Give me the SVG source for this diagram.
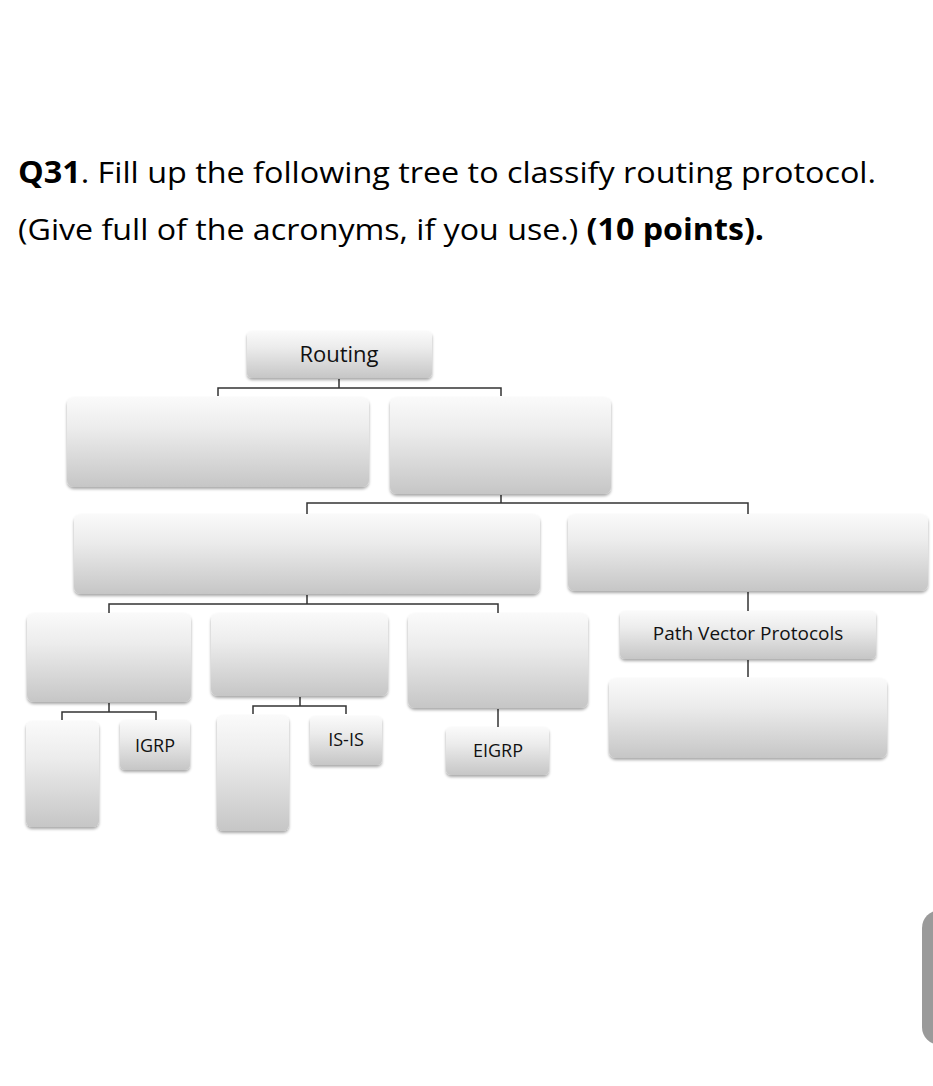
<svg xmlns="http://www.w3.org/2000/svg" width="933" height="1086" viewBox="0 0 933 1086">
<defs>
<linearGradient id="g" x1="0" y1="0" x2="0" y2="1">
<stop offset="0" stop-color="#fafafa"/>
<stop offset="0.35" stop-color="#ececec"/>
<stop offset="1" stop-color="#c6c6c6"/>
</linearGradient>
<filter id="sh" x="-10%" y="-10%" width="120%" height="130%">
<feGaussianBlur in="SourceAlpha" stdDeviation="1.5"/>
<feOffset dx="0" dy="2"/>
<feComponentTransfer><feFuncA type="linear" slope="0.35"/></feComponentTransfer>
<feMerge><feMergeNode/><feMergeNode in="SourceGraphic"/></feMerge>
</filter>
</defs>
<style>
.b{fill:url(#g);filter:url(#sh)}
.c{stroke:#333;stroke-width:1.5;fill:none}
.t{font-family:"Open Sans","Noto Sans",sans-serif;fill:#111;text-anchor:middle}
.h{font-family:"Open Sans","Noto Sans",sans-serif;fill:#000;font-size:30px}
</style>
<rect width="933" height="1086" fill="#fff"/>
<text class="h" x="18" y="183" textLength="858" lengthAdjust="spacingAndGlyphs"><tspan font-weight="bold">Q31</tspan>. Fill up the following tree to classify routing protocol.</text>
<text class="h" x="18" y="240" textLength="746" lengthAdjust="spacingAndGlyphs">(Give full of the acronyms, if you use.) <tspan font-weight="bold">(10 points).</tspan></text>
<g id="connectors">
<path class="c" d="M339 379V388M218 396V388H501V396"/>
<path class="c" d="M501 495V503M307 514V503H748V514"/>
<path class="c" d="M307 595V604M109 614V604H498V614"/>
<path class="c" d="M748 592V611M748 660V677"/>
<path class="c" d="M109 703V712M62 720V712H156V720"/>
<path class="c" d="M300 697V706M253 714V706H346V714"/>
<path class="c" d="M498 709V727"/>
</g>
<g id="routing"><rect class="b" x="247" y="331" width="185" height="47" rx="5"/><text class="t" x="339" y="362" font-size="22">Routing</text></g>
<g id="a"><rect class="b" x="67" y="397" width="302" height="90" rx="7"/></g>
<g id="b"><rect class="b" x="390" y="397" width="221" height="97" rx="7"/></g>
<g id="c"><rect class="b" x="74" y="514" width="466" height="80" rx="7"/></g>
<g id="d"><rect class="b" x="568" y="514" width="360" height="77" rx="7"/></g>
<g id="e"><rect class="b" x="27" y="613" width="164" height="89" rx="7"/></g>
<g id="f"><rect class="b" x="211" y="613" width="177" height="83" rx="7"/></g>
<g id="g1"><rect class="b" x="408" y="613" width="180" height="95" rx="7"/></g>
<g id="pvp"><rect class="b" x="620" y="611" width="256" height="48" rx="5"/><text class="t" x="748" y="640" font-size="19">Path Vector Protocols</text></g>
<g id="h"><rect class="b" x="609" y="678" width="278" height="80" rx="7"/></g>
<g id="e1"><rect class="b" x="26" y="721" width="73" height="106" rx="6"/></g>
<g id="igrp"><rect class="b" x="120" y="720" width="70" height="50" rx="5"/><text class="t" x="155" y="752" font-size="18">IGRP</text></g>
<g id="f1"><rect class="b" x="217" y="715" width="72" height="116" rx="6"/></g>
<g id="isis"><rect class="b" x="310" y="716" width="72" height="49" rx="5"/><text class="t" x="346" y="746" font-size="18">IS-IS</text></g>
<g id="eigrp"><rect class="b" x="446" y="727" width="103" height="48" rx="5"/><text class="t" x="498" y="757" font-size="18">EIGRP</text></g>
<rect x="922" y="910" width="40" height="135" rx="18" fill="#9a9a9a"/>
</svg>
